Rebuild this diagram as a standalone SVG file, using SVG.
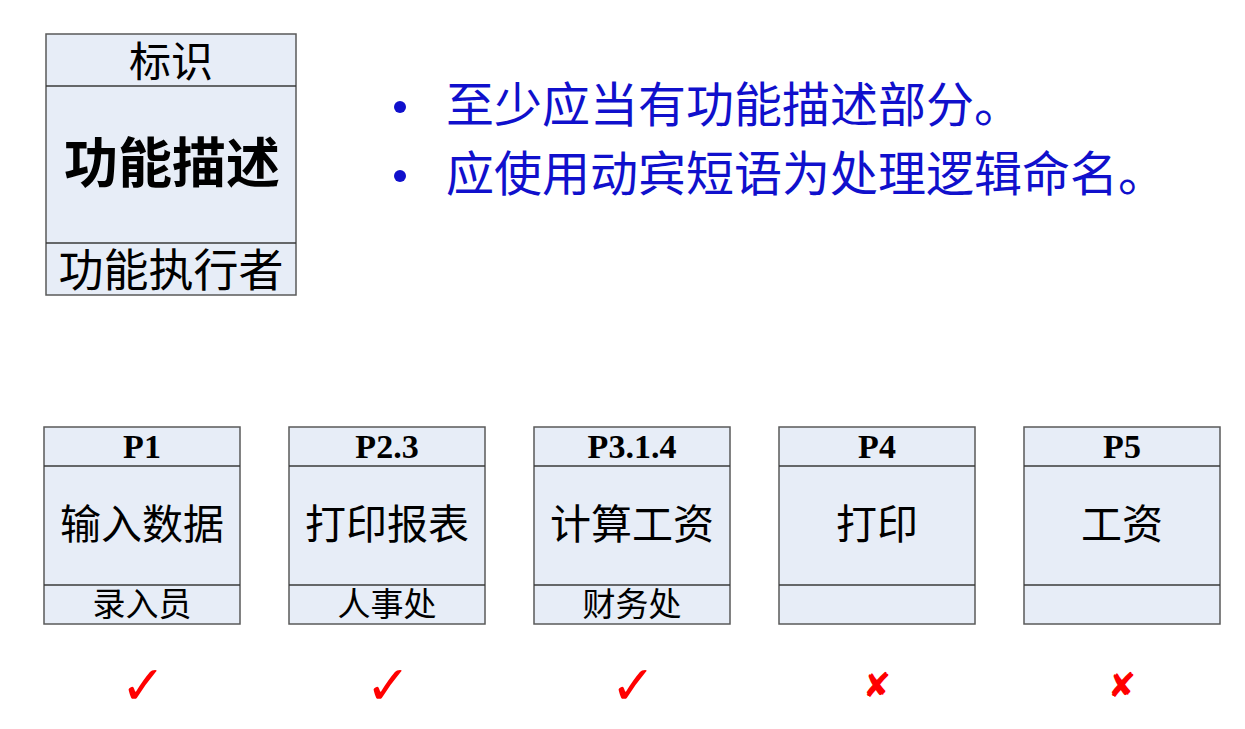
<svg xmlns="http://www.w3.org/2000/svg" width="1245" height="729" viewBox="0 0 1245 729">
<style>
.box{fill:#E7EDF7;stroke:#5a5a5a;stroke-width:1.5}
.div{stroke:#3a3a3a;stroke-width:1.3}
.cjk{font-family:"Liberation Serif","Noto Sans CJK SC",serif;fill:#000;text-anchor:middle}
.pid{font-family:"Liberation Serif","Noto Sans CJK SC",serif;font-weight:bold;font-size:34px;fill:#000;text-anchor:middle}
.name{font-size:41px}
.who{font-size:33px}
.bul{font-family:"Liberation Sans","Noto Sans CJK SC",sans-serif;font-size:48px;fill:#1010CC}
.ok{font-family:"DejaVu Sans",sans-serif;font-size:54px;fill:#FF0000;text-anchor:middle}
.no{font-family:"DejaVu Sans",sans-serif;font-size:34px;fill:#FF0000;text-anchor:middle}
</style>
<rect width="1245" height="729" fill="#fff"/>
<g id="legend">
<rect class="box" x="46" y="34" width="250" height="261"/>
<line class="div" x1="46" y1="86" x2="296" y2="86"/>
<line class="div" x1="46" y1="243" x2="296" y2="243"/>
<text class="cjk" x="171" y="77" font-size="42">标识</text>
<text class="cjk" x="172" y="183" font-size="54" font-weight="bold">功能描述</text>
<text class="cjk" x="171" y="287" font-size="45">功能执行者</text>
</g>
<g id="rules">
<circle cx="400" cy="107" r="6" fill="#1010CC"/>
<circle cx="400" cy="176" r="6" fill="#1010CC"/>
<text class="bul" x="446" y="122">至少应当有功能描述部分。</text>
<text class="bul" x="446" y="191">应使用动宾短语为处理逻辑命名。</text>
</g>
<g id="p1">
<rect class="box" x="44" y="427" width="196" height="197"/>
<line class="div" x1="44" y1="466" x2="240" y2="466"/>
<line class="div" x1="44" y1="585" x2="240" y2="585"/>
<text class="pid" x="142" y="458">P1</text>
<text class="cjk name" x="142" y="539">输入数据</text>
<text class="cjk who" x="142" y="616">录入员</text>
</g>
<g id="p2">
<rect class="box" x="289" y="427" width="196" height="197"/>
<line class="div" x1="289" y1="466" x2="485" y2="466"/>
<line class="div" x1="289" y1="585" x2="485" y2="585"/>
<text class="pid" x="387" y="458">P2.3</text>
<text class="cjk name" x="387" y="539">打印报表</text>
<text class="cjk who" x="387" y="616">人事处</text>
</g>
<g id="p3">
<rect class="box" x="534" y="427" width="196" height="197"/>
<line class="div" x1="534" y1="466" x2="730" y2="466"/>
<line class="div" x1="534" y1="585" x2="730" y2="585"/>
<text class="pid" x="632" y="458">P3.1.4</text>
<text class="cjk name" x="632" y="539">计算工资</text>
<text class="cjk who" x="632" y="616">财务处</text>
</g>
<g id="p4">
<rect class="box" x="779" y="427" width="196" height="197"/>
<line class="div" x1="779" y1="466" x2="975" y2="466"/>
<line class="div" x1="779" y1="585" x2="975" y2="585"/>
<text class="pid" x="877" y="458">P4</text>
<text class="cjk name" x="877" y="539">打印</text>
</g>
<g id="p5">
<rect class="box" x="1024" y="427" width="196" height="197"/>
<line class="div" x1="1024" y1="466" x2="1220" y2="466"/>
<line class="div" x1="1024" y1="585" x2="1220" y2="585"/>
<text class="pid" x="1122" y="458">P5</text>
<text class="cjk name" x="1122" y="539">工资</text>
</g>
<g id="marks">
<text class="ok" x="143" y="704">✓</text>
<text class="ok" x="388" y="704">✓</text>
<text class="ok" x="633" y="704">✓</text>
<text class="no" x="877" y="697">✘</text>
<text class="no" x="1122" y="697">✘</text>
</g>
<g id="connectors"/>
</svg>
